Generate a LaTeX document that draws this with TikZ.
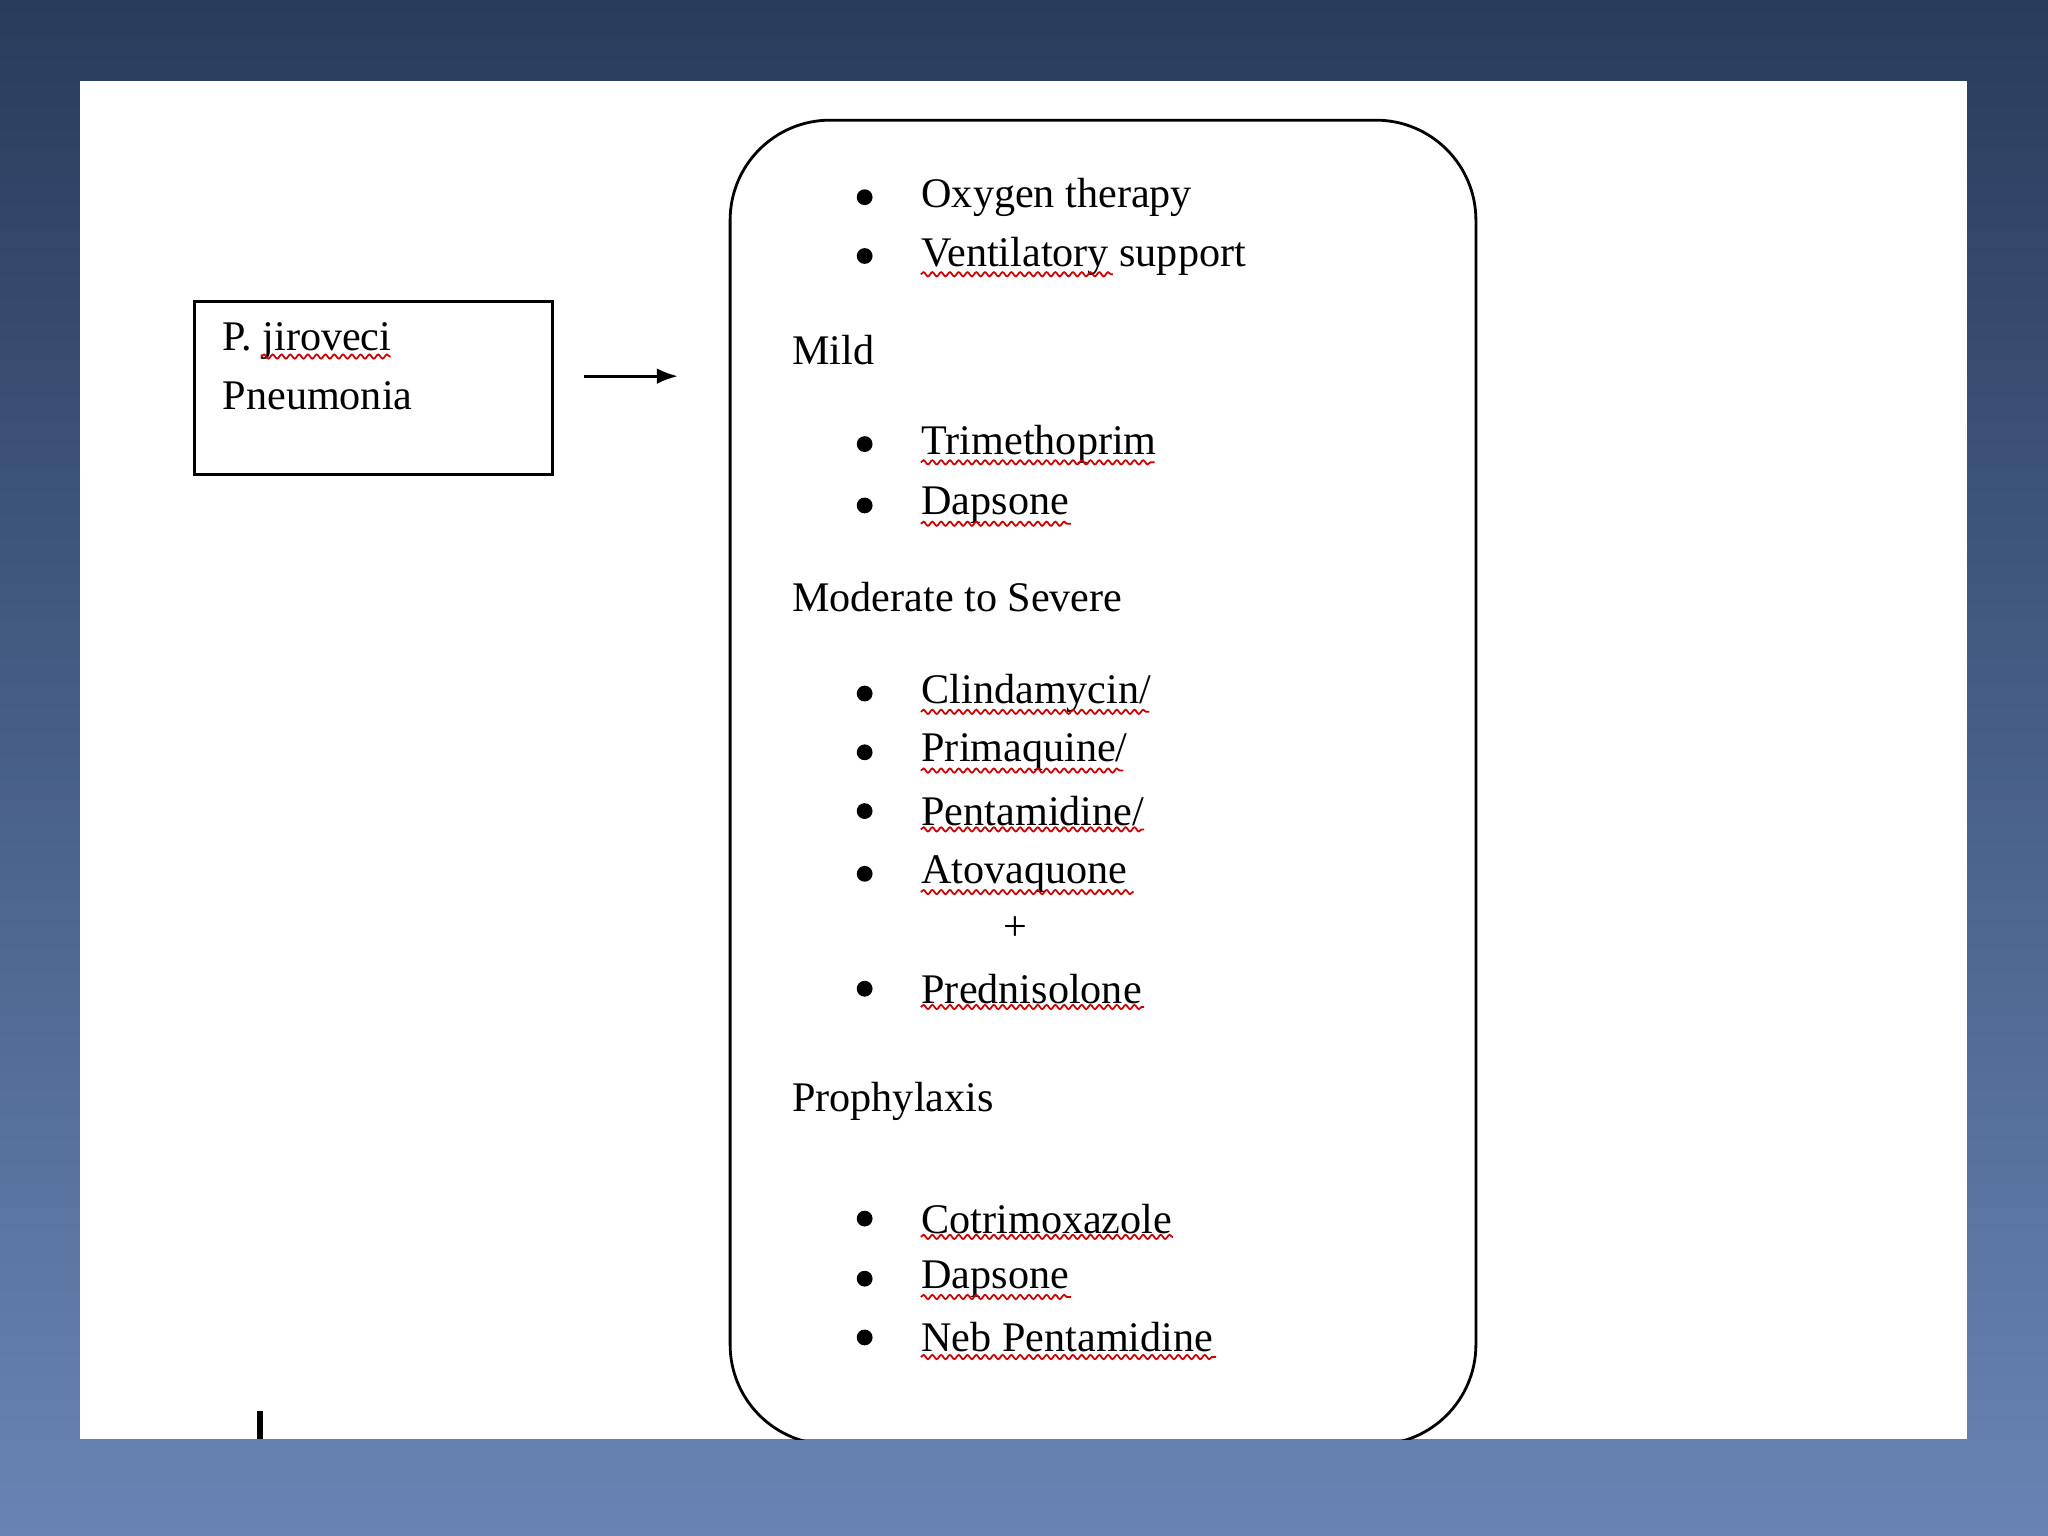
\documentclass[tikz,border=0pt]{standalone}
\usepackage{fontspec}
\setmainfont{Liberation Serif}
\usetikzlibrary{decorations.pathmorphing,arrows.meta}
\definecolor{bgtop}{HTML}{283C5C}
\definecolor{bgbot}{HTML}{6884B4}
\tikzset{
  txt/.style={anchor=west,inner sep=0pt,font=\fontsize{12pt}{14pt}\selectfont},
  bul/.style={circle,fill=black,inner sep=0pt,minimum size=4.5pt},
  sq/.style={red!80!black,line width=0.5pt,decorate,decoration={snake,amplitude=0.6pt,segment length=2.5pt}}
}
\begin{document}
\begin{tikzpicture}[x=0.013061cm,y=-0.013061cm]
\useasboundingbox (0,0) rectangle (1568,1176);
\shade[top color=bgtop,bottom color=bgbot] (0,0) rectangle (1568,1176);
\fill[white] (61,62) rectangle (1506,1102);
\begin{scope}
\clip (61,62) rectangle (1506,1102);
\draw[line width=0.8pt,rounded corners=1.0cm] (559,92) rectangle (1130,1106);
\end{scope}
\node[draw,line width=0.8pt,minimum width=274*0.013061cm,minimum height=132*0.013061cm,anchor=north west] (pj) at (148,230) {};
\node[txt] (t1) at (170,261) {P. jiroveci};
\node[txt] (t2) at (170,303) {Pneumonia};
\coordinate (a1) at (447,288);
\coordinate (a2) at (519,288);
\draw[-{Latex[length=6pt]},line width=0.8pt] (a1) -- (a2);
\draw[line width=1.5pt] (199,1080) -- (199,1102);
\foreach \y/\t in {151/{Oxygen therapy},196/{Ventilatory support},340/{Trimethoprim},387/{Dapsone},531/{Clindamycin/},576/{Primaquine/},621/{Pentamidine/},669/{Atovaquone},757/{Prednisolone},933/{Cotrimoxazole},979/{Dapsone},1024/{Neb Pentamidine}}{
  \node[bul] at (662,\y) {};
  \node[txt] at (705,\y) {\t};
}
\node[txt] (mild) at (606,268) {Mild};
\node[txt] (mod) at (606,457) {Moderate to Severe};
\node[txt] (pro) at (606,843) {Prophylaxis};
\node[txt] (plus) at (768,711) {+};
\foreach \a/\b/\y in {200/299/273,705/852/210,705/884/354,705/820/401,705/880/545,705/860/590,705/876/635,705/868/683,705/876/771,705/898/947,705/820/993,705/931/1039}{
  \draw[sq] (\a,\y) -- (\b,\y);
}
\end{tikzpicture}
\end{document}
